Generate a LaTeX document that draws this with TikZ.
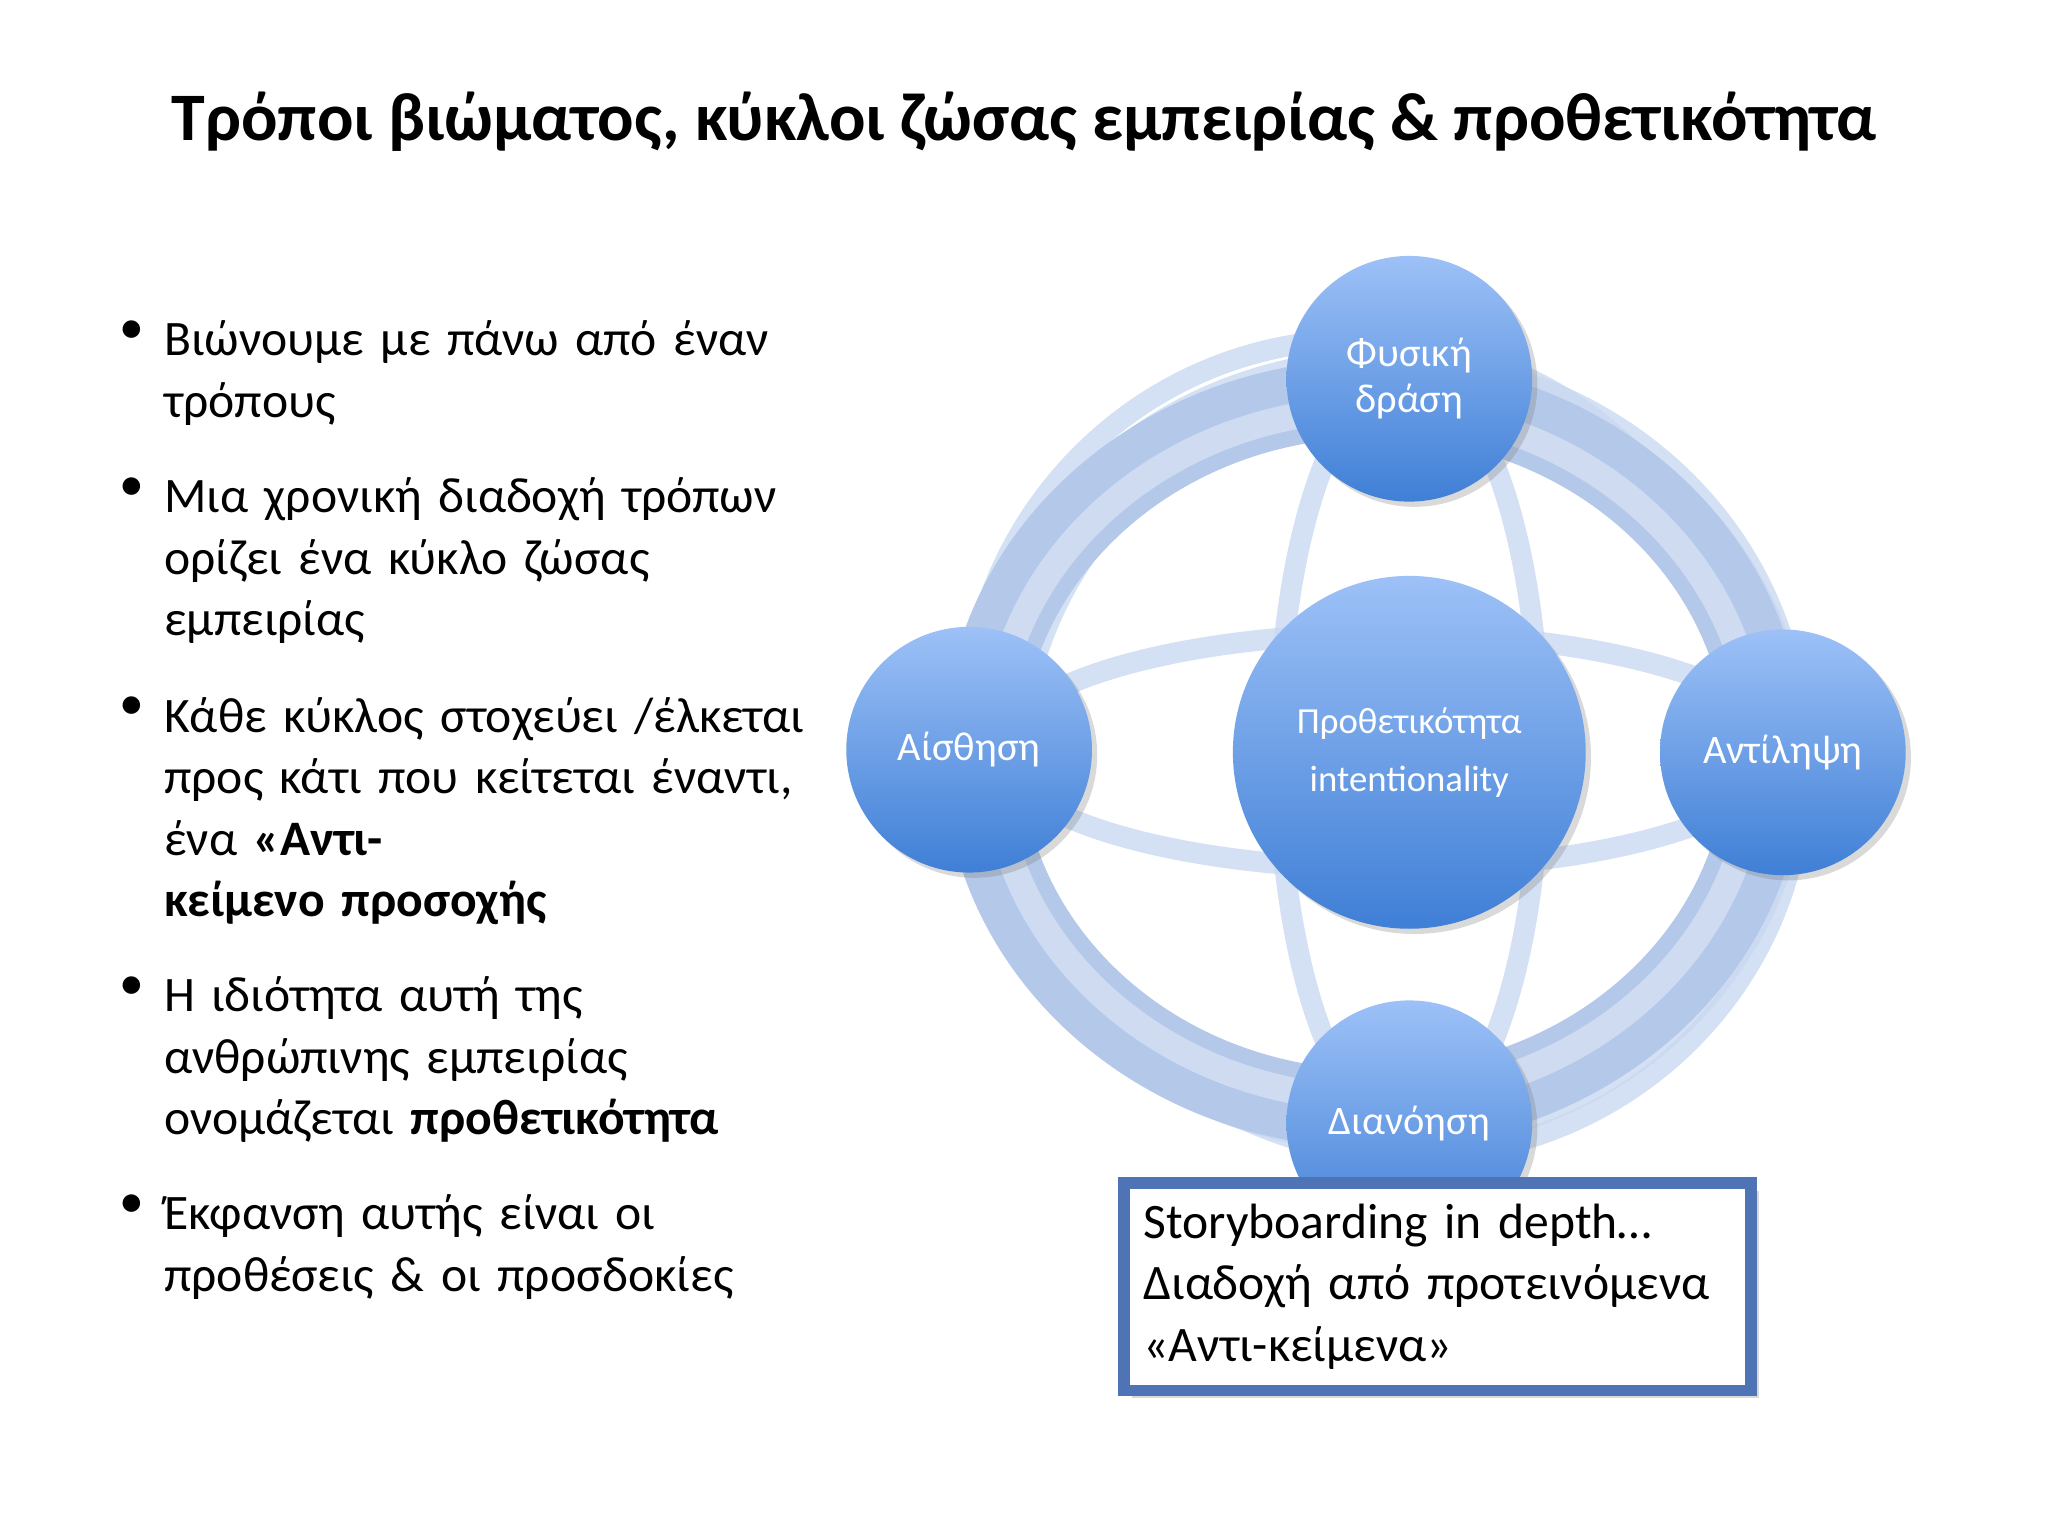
\documentclass[tikz,border=0pt]{standalone}
\usepackage{fontspec}
\setmainfont{Carlito}
\usetikzlibrary{shadows}
\definecolor{ringc}{HTML}{B4C8EA}
\definecolor{thinc}{HTML}{C9D8F0}
\definecolor{topc}{HTML}{9DC1F7}
\definecolor{botc}{HTML}{3F7FD6}
\definecolor{boxc}{HTML}{4F74B5}
\tikzset{
 ball/.style={circle,minimum size=#1,inner sep=0pt,top color=topc,bottom color=botc,draw=none,text=white,font=\fontsize{8.8}{10}\selectfont,align=center,drop shadow={shadow xshift=0.4mm,shadow yshift=-0.4mm,opacity=0.3}},
 bul/.style={anchor=north west,align=left,text width=4.9cm,font=\fontsize{10.8}{13.4}\selectfont,inner sep=0pt},
 thin/.style={draw=thinc,line width=1.6mm,opacity=0.8},
}
\begin{document}
\begin{tikzpicture}[x=0.01cm,y=-0.01cm]
\useasboundingbox (0,0) rectangle (1568,1176);
\node[font=\fontsize{14.8}{17}\selectfont\bfseries] (title) at (784,93) {Τρόποι βιώματος, κύκλοι ζώσας εμπειρίας \& προθετικότητα};
% bullets
\foreach \y/\t [count=\i] in {
 245/{Βιώνουμε με πάνω από έναν τρόπους},
 365/{Μια χρονική διαδοχή τρόπων ορίζει ένα κύκλο ζώσας εμπειρίας},
 533/{Κάθε κύκλος στοχεύει /έλκεται προς κάτι που κείτεται έναντι, ένα \textbf{«Αντι-\\κείμενο προσοχής}},
 747/{Η ιδιότητα αυτή της ανθρώπινης εμπειρίας ονομάζεται \textbf{προθετικότητα}},
 914/{Έκφανση αυτής είναι οι προθέσεις \& οι προσδοκίες}}
{\node[bul] (b\i) at (125,\y) {\t};
 \node[anchor=north,font=\fontsize{10.8}{13.4}\selectfont,inner sep=0pt] (d\i) at (101,\y) {•};}
% thin loops
\draw[thin] (1060,575) ellipse (318 and 300);
\draw[thin] (1040,560) ellipse (300 and 300);
\draw[thin] (1080,590) ellipse (300 and 295);
\draw[thin] (1079,575) ellipse (100 and 290);
\draw[thin] (1065,575) ellipse (300 and 90);
% thick ring
\draw[ringc,line width=6mm] (1052,577) ellipse (300 and 272);
\draw[white,opacity=0.35,line width=2mm] (1052,577) ellipse (292 and 264);
% balls
\node[ball=1.88cm] (top) at (1079,290) {Φυσική\\δράση};
\node[ball=1.88cm] (left) at (742,574) {Αίσθηση};
\node[ball=1.88cm] (right) at (1365,576) {Αντίληψη};
\node[ball=1.88cm] (bot) at (1079,860) {Διανόηση};
\node[ball=2.7cm,font=\fontsize{8}{12.5}\selectfont] (ctr) at (1079,576) {Προθετικότητα\\intentionality};
% box
\node[draw=boxc,line width=0.9mm,fill=white,anchor=north west,minimum width=4.77cm,minimum height=1.59cm,text width=4.5cm,align=left,inner sep=0.15cm,font=\fontsize{10.8}{13.4}\selectfont,drop shadow={shadow xshift=0.6mm,shadow yshift=-0.6mm,opacity=0.3}] (box) at (856,901) {Storyboarding in depth…\\Διαδοχή από προτεινόμενα\\«Αντι-κείμενα»};
\end{tikzpicture}
\end{document}
